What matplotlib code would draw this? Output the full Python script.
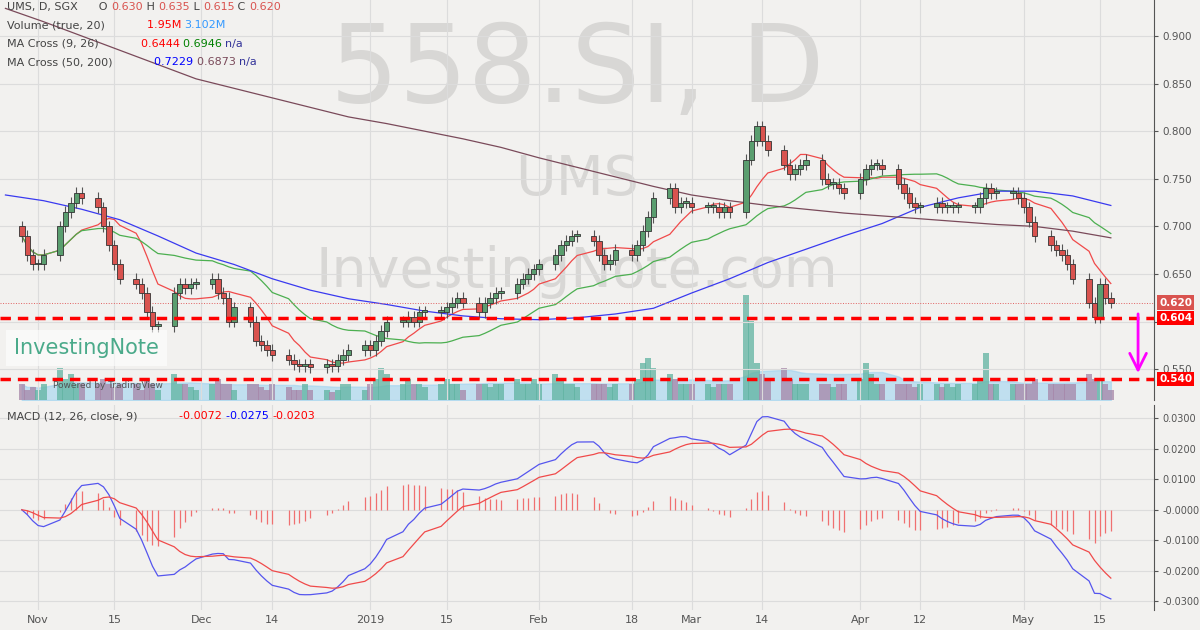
import numpy as np
import pandas as pd
import matplotlib
matplotlib.use("Agg")
import matplotlib.pyplot as plt
import matplotlib.dates as mdates

dates = pd.bdate_range("2018-10-29", "2019-05-17")

closes = [
    0.690, 0.670, 0.660, 0.660, 0.670,
    0.700, 0.715, 0.725, 0.735, 0.730,
    0.720, 0.700, 0.680, 0.660, 0.645,
    0.640, 0.630, 0.610, 0.595, 0.595,
    0.630, 0.640, 0.635, 0.640, 0.640,
    0.645, 0.630, 0.625, 0.600, 0.615,
    0.600, 0.580, 0.575, 0.570, 0.565,
    0.560, 0.555, 0.553, 0.555, 0.552,
    0.555, 0.553, 0.560, 0.565, 0.570,
    0.575, 0.570, 0.580, 0.590, 0.600,
    0.600, 0.605, 0.600, 0.610, 0.610,
    0.610, 0.615, 0.620, 0.625, 0.620,
    0.610, 0.620, 0.625, 0.630, 0.630,
    0.640, 0.645, 0.650, 0.655, 0.660,
    0.670, 0.680, 0.685, 0.690, 0.690,
    0.685, 0.670, 0.660, 0.665, 0.675,
    0.670, 0.680, 0.695, 0.710, 0.730,
    0.740, 0.720, 0.725, 0.725, 0.720,
    0.720, 0.720, 0.715, 0.720, 0.715,
    0.770, 0.790, 0.805, 0.790, 0.780,
    0.765, 0.755, 0.760, 0.765, 0.770,
    0.750, 0.745, 0.745, 0.740, 0.735,
    0.750, 0.760, 0.765, 0.765, 0.760,
    0.745, 0.735, 0.725, 0.720, 0.720,
    0.725, 0.720, 0.720, 0.720, 0.720,
    0.720, 0.730, 0.740, 0.735, 0.735,
    0.735, 0.730, 0.720, 0.705, 0.690,
    0.680, 0.675, 0.670, 0.660, 0.645,
    0.620, 0.605, 0.640, 0.625, 0.620,
]

volume_m = [
    3, 2, 2.5, 2, 3,
    6, 4, 5, 3, 3,
    3, 4, 3, 2.5, 3,
    3, 2, 4, 3, 2,
    5, 3, 3, 2.5, 2,
    3, 4, 3, 3, 2,
    3, 3, 2.5, 2, 3,
    2.5, 2, 2, 3, 2,
    2, 1.5, 2, 3, 3,
    2, 3, 4, 6, 5,
    3, 4, 3, 3, 2.5,
    3, 4, 3, 3, 2,
    3, 3, 2.5, 3, 3,
    4, 3, 3, 4, 3,
    5, 4, 3, 3, 2.5,
    3, 3, 3, 2.5, 3,
    3, 4, 7, 8, 6,
    5, 4, 3, 3, 3,
    3, 2.5, 3, 3, 3,
    20, 15, 7, 5, 4,
    6, 4, 3, 3, 3,
    3, 3, 2.5, 3, 3,
    4, 7, 5, 3, 3,
    3, 3, 3, 2.5, 3,
    3, 2.5, 3, 2.5, 3,
    3, 4, 9, 3, 3,
    3, 3, 3, 3, 4,
    3, 3, 3, 3, 3,
    5, 4, 4, 3, 2,
]

fridays = pd.date_range("2018-10-26", "2019-05-17", freq="W-FRI")
ma50_weekly = [0.733, 0.727, 0.718, 0.707, 0.690, 0.672, 0.660, 0.645, 0.633, 0.624,
               0.618, 0.611, 0.606, 0.603, 0.602, 0.604, 0.608, 0.614, 0.630, 0.645,
               0.662, 0.676, 0.690, 0.703, 0.720, 0.730, 0.737, 0.737, 0.732, 0.722]
ma200_weekly = [0.929, 0.915, 0.900, 0.885, 0.870, 0.855, 0.845, 0.835, 0.825, 0.815,
                0.808, 0.800, 0.792, 0.783, 0.772, 0.762, 0.752, 0.742, 0.733, 0.727,
                0.722, 0.718, 0.714, 0.711, 0.708, 0.705, 0.702, 0.700, 0.695, 0.688]

tick_dates = ["2018-11-01", "2018-11-15", "2018-12-01", "2018-12-14", "2019-01-01", "2019-01-15",
              "2019-02-01", "2019-02-18", "2019-03-01", "2019-03-14", "2019-04-01", "2019-04-12",
              "2019-05-01", "2019-05-15"]
tick_labels = ["Nov", "15", "Dec", "14", "2019", "15", "Feb", "18", "Mar", "14", "Apr", "12", "May", "15"]
macd_ticks = [0.03, 0.02, 0.01, 0.0, -0.01, -0.02, -0.03]
macd_labels = ["0.0300", "0.0200", "0.0100", "-0.0000", "-0.0100", "-0.0200", "-0.0300"]

BG = "#f2f1ef"
UP = "#5a9e6f"
DOWN = "#d9534f"

close = pd.Series(closes, index=dates)
opens = close.shift(1).fillna(close.iloc[0] + 0.01)
highs = np.maximum(opens, close) + 0.006
lows = np.minimum(opens, close) - 0.006
up = close >= opens

x = mdates.date2num(dates)
W = 0.962
fig = plt.figure(figsize=(12, 6.3), dpi=100, facecolor=BG)
axv = fig.add_axes([0.0, 0.365, W, 0.635], facecolor=BG)
ax = fig.add_axes([0.0, 0.365, W, 0.635])
ax.patch.set_visible(False)
axm = fig.add_axes([0.0, 0.032, W, 0.325], facecolor=BG)

# volume underneath
axv.set_ylim(0, 76)
vcol = np.where(up, "#5fb3a0", "#a685a8")
vma = pd.Series(volume_m).rolling(20, min_periods=1).mean()
axv.fill_between(x, 0, vma, color="#9fd3f0", alpha=0.6, zorder=0)
axv.bar(x, volume_m, width=1.1, color=vcol, alpha=0.75, zorder=1)
axv.set_xticks([])
axv.set_yticks([])
for s in axv.spines.values():
    s.set_visible(False)

# watermark
ax.text(0.5, 0.82, "558.SI, D", transform=ax.transAxes, fontsize=78, color="#d8d7d5",
        ha="center", va="center", zorder=0)
ax.text(0.5, 0.55, "UMS", transform=ax.transAxes, fontsize=40, color="#d8d7d5",
        ha="center", va="center", zorder=0)
ax.text(0.5, 0.32, "InvestingNote.com", transform=ax.transAxes, fontsize=40, color="#d8d7d5",
        ha="center", va="center", zorder=0)

# candles
cols = np.where(up, UP, DOWN)
ax.vlines(x, lows, highs, color="#555555", lw=0.8, zorder=3)
ax.bar(x, np.abs(close - opens).clip(lower=0.002), bottom=np.minimum(opens, close), width=1.0,
       color=cols, edgecolor="#333333", lw=0.6, zorder=4)

ma9 = close.rolling(9, min_periods=1).mean()
ma26 = close.rolling(26, min_periods=1).mean()
ax.plot(x, ma9, color="#f04a4a", lw=0.9, zorder=2)
ax.plot(x, ma26, color="#4caf50", lw=0.9, zorder=2)
ax.plot(mdates.date2num(fridays), ma50_weekly, color="#3a3af0", lw=0.9, zorder=2)
ax.plot(mdates.date2num(fridays), ma200_weekly, color="#7a4a5a", lw=0.9, zorder=2)

ax.axhline(0.620, color="#e06060", lw=0.7, ls=":", zorder=2)
ax.axhline(0.604, color="red", lw=2.5, ls=(0, (3, 2)), zorder=5)
ax.axhline(0.540, color="red", lw=2.5, ls=(0, (3, 2)), zorder=5)

x0, x1 = x[0] - 4, x[-1] + 8
ax.set_xlim(x0, x1)
axv.set_xlim(x0, x1)
ax.set_ylim(0.5176, 0.9378)
ax.annotate("", xy=(x[-1] + 5, 0.543), xytext=(x[-1] + 5, 0.611),
            arrowprops=dict(arrowstyle="->", color="#ff00ff", lw=2, mutation_scale=30), zorder=6)

ax.yaxis.tick_right()
ax.set_yticks([0.55, 0.60, 0.65, 0.70, 0.75, 0.80, 0.85, 0.90])
ax.set_yticklabels(["0.550", "", "0.650", "0.700", "0.750", "0.800", "0.850", "0.900"])
ax.tick_params(axis="y", colors="#555555", labelsize=7.5, length=3, pad=3)
ax.set_xticks(mdates.date2num(pd.to_datetime(tick_dates)))
ax.tick_params(axis="x", length=0, labelbottom=False)
ax.grid(color="#dcdcdc", lw=0.8)
for s in ["top", "left", "bottom"]:
    ax.spines[s].set_visible(False)
ax.spines["right"].set_color("#555555")

for val, fc in [(0.620, "#d9534f"), (0.604, "red"), (0.540, "red")]:
    ax.text(1.004, val, f"{val:.3f}", transform=ax.get_yaxis_transform(), color="white",
            fontsize=7.5, fontweight="bold", va="center", ha="left",
            bbox=dict(boxstyle="square,pad=0.2", fc=fc, ec="none"), clip_on=False)

# legend lines
leg = [
    [("UMS, D, SGX      O ", "#444444"), ("0.630", "#d9534f"), (" H ", "#444444"), ("0.635", "#d9534f"),
     (" L ", "#444444"), ("0.615", "#d9534f"), (" C ", "#444444"), ("0.620", "#d9534f")],
    [("Volume (true, 20)            ", "#444444"), ("1.95M ", "red"), ("3.102M", "#3399ff")],
    [("MA Cross (9, 26)            ", "#444444"), ("0.6444 ", "red"), ("0.6946 ", "green"), ("n/a", "#333399")],
    [("MA Cross (50, 200)            ", "#444444"), ("0.7229 ", "blue"), ("0.6873 ", "#7a4a5a"), ("n/a", "#333399")],
]
for i, parts in enumerate(leg):
    txt = None
    for j, (s, c) in enumerate(parts):
        if txt is None:
            txt = ax.text(0.006, 0.995 - i * 0.046, s, transform=ax.transAxes, fontsize=8,
                          color=c, va="top", zorder=7)
        else:
            txt = ax.annotate(s, xycoords=txt, xy=(1, 0), va="bottom", fontsize=8, color=c, zorder=7)

ax.text(0.012, 0.115, "InvestingNote", transform=ax.transAxes, fontsize=15, color="#4aaa8a",
        zorder=7, bbox=dict(fc="white", ec="none", alpha=0.6, pad=6))
ax.text(0.046, 0.03, "Powered by TradingView", transform=ax.transAxes, fontsize=6.5,
        color="#555555", zorder=7)

# MACD
ema12 = close.ewm(span=12, adjust=False).mean()
ema26 = close.ewm(span=26, adjust=False).mean()
macd = ema12 - ema26
signal = macd.ewm(span=9, adjust=False).mean()
hist = macd - signal
axm.vlines(x, 0, hist, color="#f07070", lw=0.9)
axm.plot(x, macd, color="#5555ee", lw=0.9)
axm.plot(x, signal, color="#f04a4a", lw=0.9)
axm.set_xlim(x0, x1)
axm.set_ylim(-0.0328, 0.0343)
axm.yaxis.tick_right()
axm.set_yticks(macd_ticks)
axm.set_yticklabels(macd_labels)
axm.tick_params(axis="y", colors="#555555", labelsize=7, length=3, pad=3)
axm.set_xticks(mdates.date2num(pd.to_datetime(tick_dates)))
axm.set_xticklabels(tick_labels)
axm.tick_params(axis="x", colors="#555555", labelsize=8, length=0, pad=4)
axm.grid(color="#dcdcdc", lw=0.8)
for s in ["top", "left", "bottom"]:
    axm.spines[s].set_visible(False)
axm.spines["right"].set_color("#555555")
t = axm.text(0.006, 0.97, "MACD (12, 26, close, 9)            ", transform=axm.transAxes, fontsize=8,
             color="#444444", va="top")
for s, c in [("-0.0072 ", "red"), ("-0.0275 ", "blue"), ("-0.0203", "red")]:
    t = axm.annotate(s, xycoords=t, xy=(1, 0), va="bottom", fontsize=8, color=c)

fig.savefig("out.png", dpi=100, facecolor=BG)
